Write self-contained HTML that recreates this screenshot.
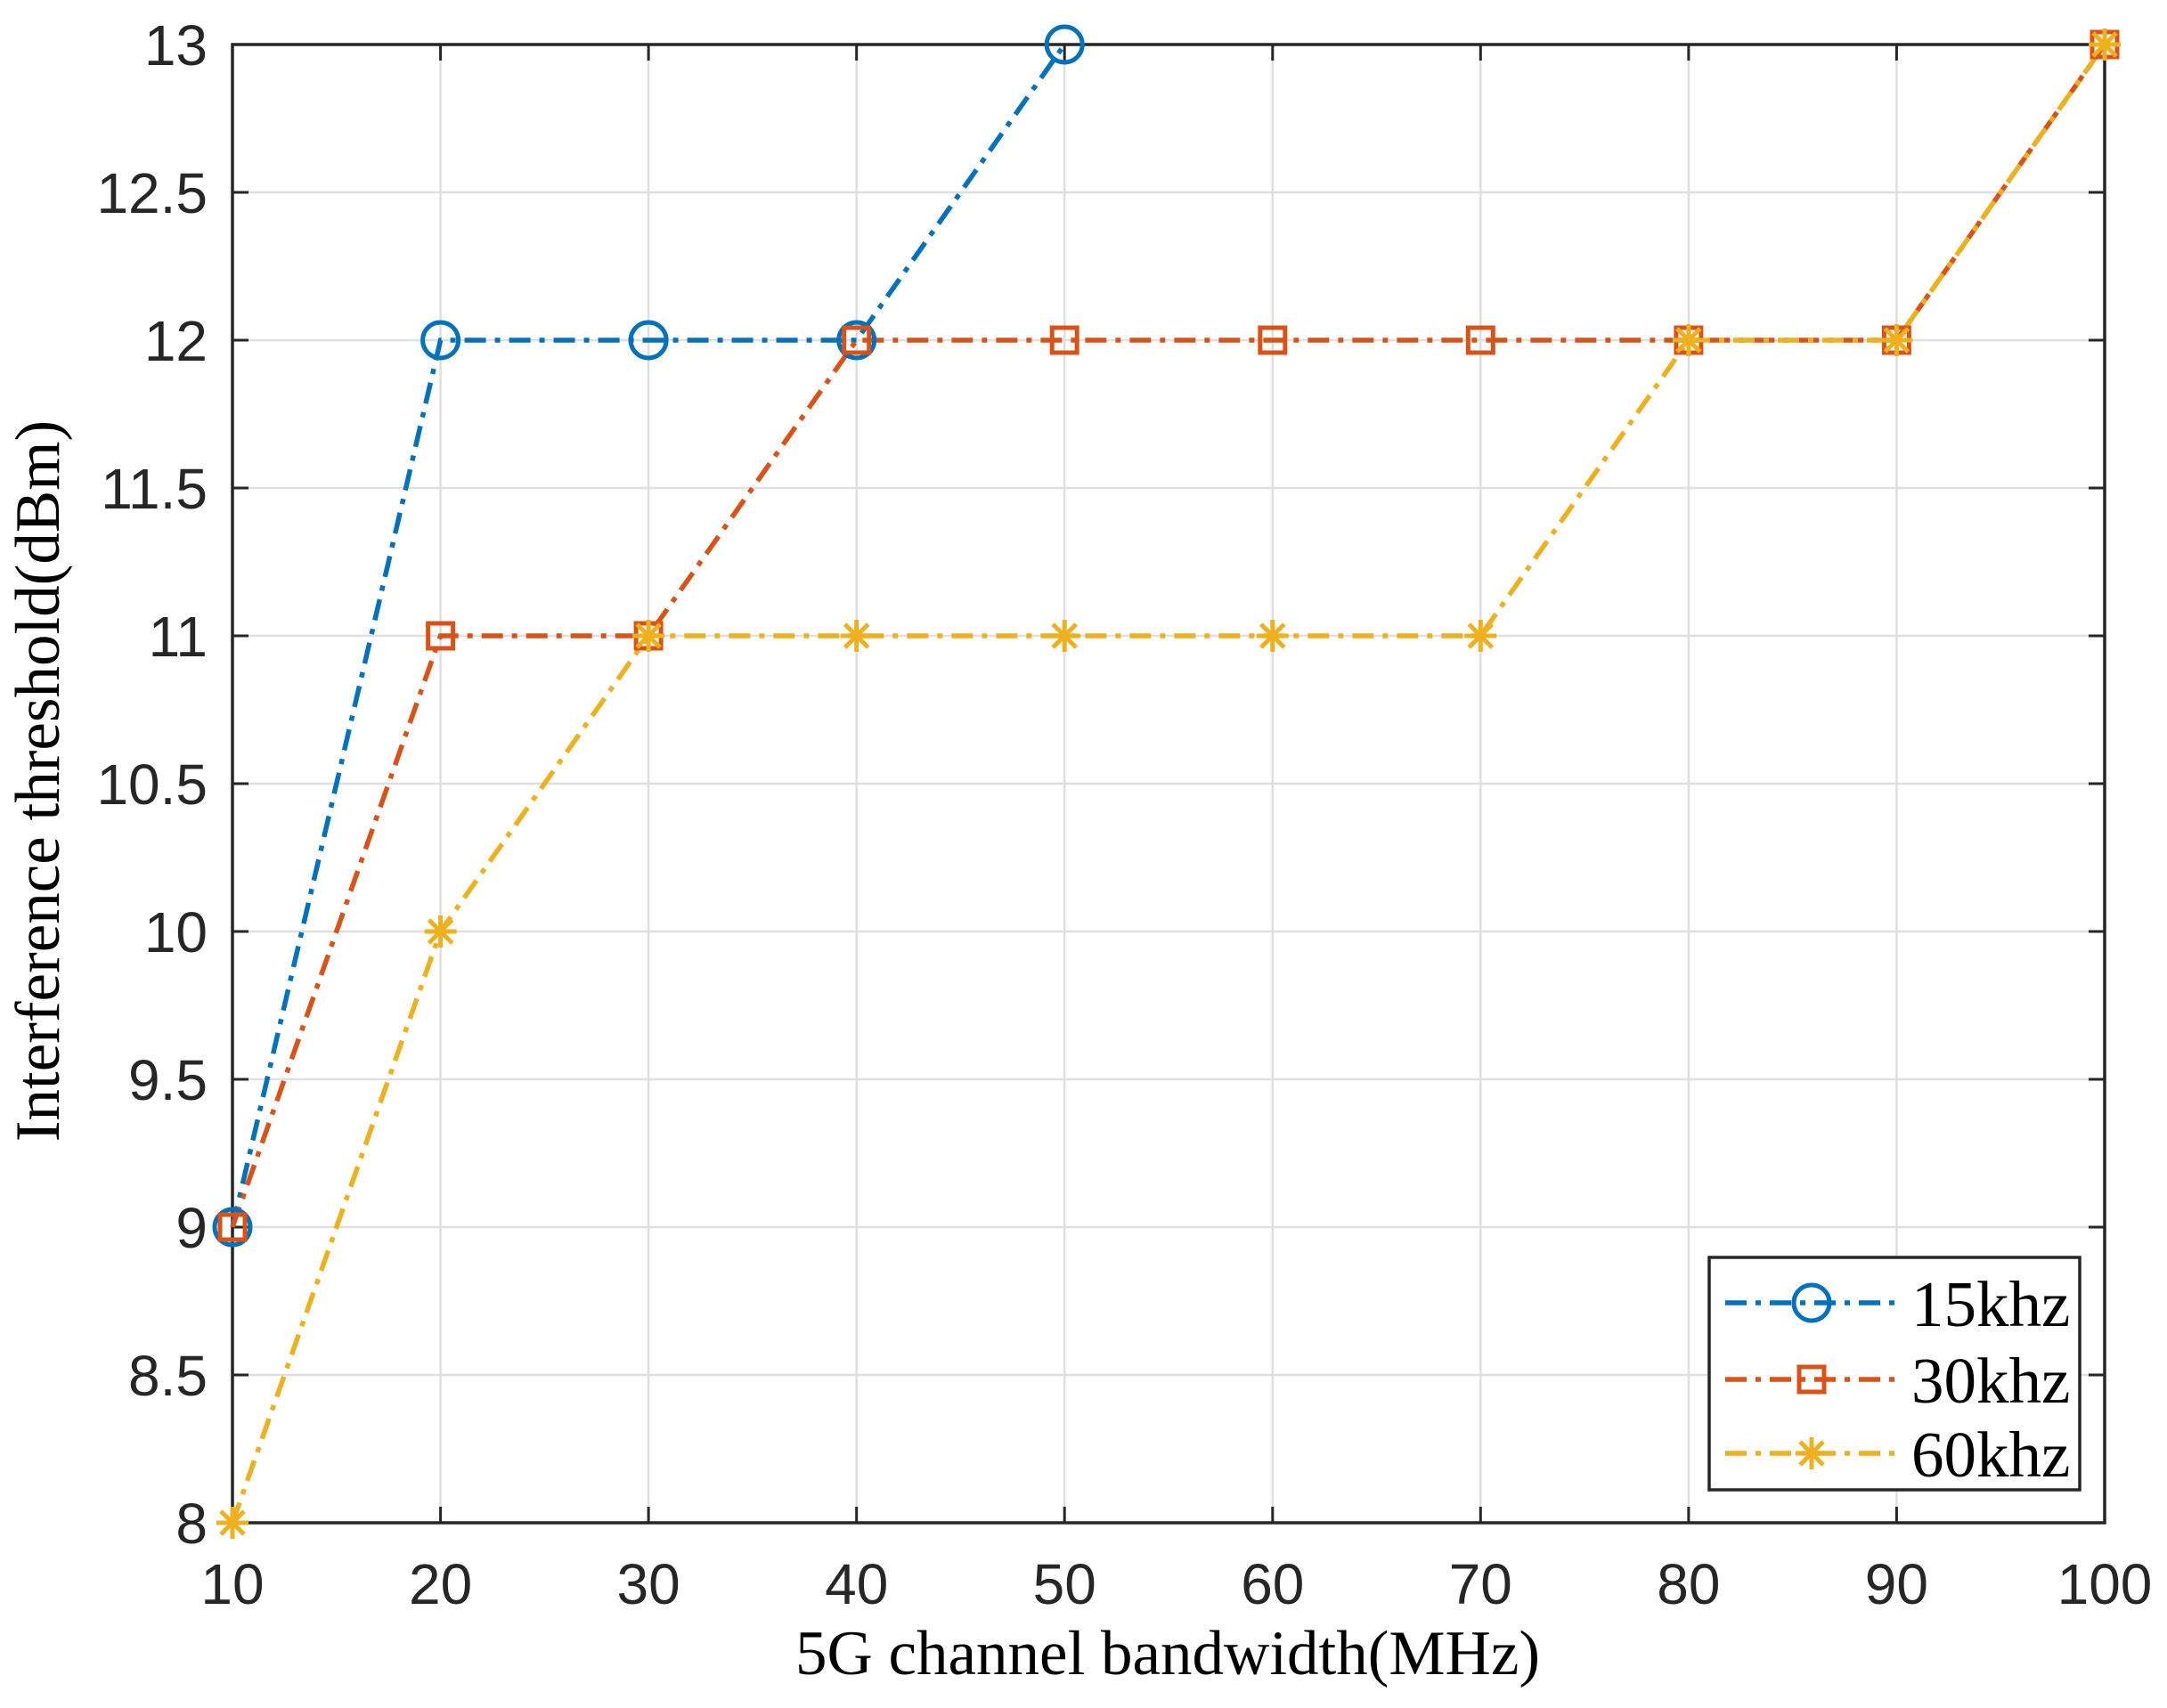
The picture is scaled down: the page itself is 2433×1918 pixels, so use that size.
<!DOCTYPE html>
<html><head><meta charset="utf-8"><style>
html,body{margin:0;padding:0;background:#fff;}
svg{display:block;}
.t{font-family:"Liberation Sans",Arial,sans-serif;font-size:64px;fill:#262626;}
.s{font-family:"Liberation Serif","Times New Roman",serif;fill:#000;}
</style></head><body>
<svg width="2433" height="1918" viewBox="0 0 2433 1918" xmlns="http://www.w3.org/2000/svg">
<rect width="2433" height="1918" fill="#fff"/>
<g stroke="#dfdfdf" stroke-width="2.5">
<line x1="494.6" y1="50" x2="494.6" y2="1710"/><line x1="728.1" y1="50" x2="728.1" y2="1710"/>
<line x1="961.7" y1="50" x2="961.7" y2="1710"/><line x1="1195.2" y1="50" x2="1195.2" y2="1710"/>
<line x1="1428.8" y1="50" x2="1428.8" y2="1710"/><line x1="1662.3" y1="50" x2="1662.3" y2="1710"/>
<line x1="1895.9" y1="50" x2="1895.9" y2="1710"/><line x1="2129.4" y1="50" x2="2129.4" y2="1710"/>
<line x1="261" y1="216" x2="2363" y2="216"/><line x1="261" y1="382" x2="2363" y2="382"/>
<line x1="261" y1="548" x2="2363" y2="548"/><line x1="261" y1="714" x2="2363" y2="714"/>
<line x1="261" y1="880" x2="2363" y2="880"/><line x1="261" y1="1046" x2="2363" y2="1046"/>
<line x1="261" y1="1212" x2="2363" y2="1212"/><line x1="261" y1="1378" x2="2363" y2="1378"/>
<line x1="261" y1="1544" x2="2363" y2="1544"/>
</g>
<g stroke="#262626" stroke-width="3">
<path d="M494.6 1710v-18M728.1 1710v-18M961.7 1710v-18M1195.2 1710v-18M1428.8 1710v-18M1662.3 1710v-18M1895.9 1710v-18M2129.4 1710v-18
M494.6 50v18M728.1 50v18M961.7 50v18M1195.2 50v18M1428.8 50v18M1662.3 50v18M1895.9 50v18M2129.4 50v18
M261 216h18M261 382h18M261 548h18M261 714h18M261 880h18M261 1046h18M261 1212h18M261 1378h18M261 1544h18
M2363 216h-18M2363 382h-18M2363 548h-18M2363 714h-18M2363 880h-18M2363 1046h-18M2363 1212h-18M2363 1378h-18M2363 1544h-18"/>
<rect x="261" y="50" width="2102" height="1660" fill="none" stroke-width="3.5"/>
</g>
<g class="t" text-anchor="end">
<text x="233" y="73">13</text><text x="233" y="239">12.5</text><text x="233" y="405">12</text>
<text x="233" y="571">11.5</text><text x="233" y="737">11</text><text x="233" y="903">10.5</text>
<text x="233" y="1069">10</text><text x="233" y="1235">9.5</text><text x="233" y="1401">9</text>
<text x="233" y="1567">8.5</text><text x="233" y="1733">8</text>
</g>
<g class="t" text-anchor="middle">
<text x="261" y="1801">10</text><text x="494.6" y="1801">20</text><text x="728.1" y="1801">30</text>
<text x="961.7" y="1801">40</text><text x="1195.2" y="1801">50</text><text x="1428.8" y="1801">60</text>
<text x="1662.3" y="1801">70</text><text x="1895.9" y="1801">80</text><text x="2129.4" y="1801">90</text>
<text x="2363" y="1801">100</text>
</g>
<text class="s" x="1311" y="1880" font-size="71" text-anchor="middle">5G channel bandwidth(MHz)</text>
<text class="s" transform="translate(66,877) rotate(-90)" font-size="71" text-anchor="middle">Interference threshold(dBm)</text>
<g fill="none" stroke-width="5.5" stroke-dasharray="24,10,6,10">
<polyline stroke="#0072BD" points="261,1378 494.6,382 728.1,382 961.7,382 1195.2,50"/>
<polyline stroke="#D95319" points="261,1378 494.6,714 728.1,714 961.7,382 1195.2,382 1428.8,382 1662.3,382 1895.9,382 2129.4,382 2363,50"/>
<polyline stroke="#EDB120" points="261,1710 494.6,1046 728.1,714 961.7,714 1195.2,714 1428.8,714 1662.3,714 1895.9,382 2129.4,382 2363,50"/>
</g>
<defs>
<g id="st"><path d="M0 -18V18M-18 0H18M-13 -13L13 13M-13 13L13 -13" stroke="#EDB120" stroke-width="5"/></g>
<rect id="sq" x="-14" y="-14" width="28" height="28" fill="none" stroke="#D95319" stroke-width="5"/>
<circle id="ci" r="20" fill="none" stroke="#0072BD" stroke-width="5"/>
</defs>
<use href="#ci" x="261" y="1378"/><use href="#ci" x="494.6" y="382"/><use href="#ci" x="728.1" y="382"/><use href="#ci" x="961.7" y="382"/><use href="#ci" x="1195.2" y="50"/>
<use href="#sq" x="261" y="1378"/><use href="#sq" x="494.6" y="714"/><use href="#sq" x="728.1" y="714"/><use href="#sq" x="961.7" y="382"/><use href="#sq" x="1195.2" y="382"/><use href="#sq" x="1428.8" y="382"/><use href="#sq" x="1662.3" y="382"/><use href="#sq" x="1895.9" y="382"/><use href="#sq" x="2129.4" y="382"/><use href="#sq" x="2363" y="50"/>
<use href="#st" x="261" y="1710"/><use href="#st" x="494.6" y="1046"/><use href="#st" x="728.1" y="714"/><use href="#st" x="961.7" y="714"/><use href="#st" x="1195.2" y="714"/><use href="#st" x="1428.8" y="714"/><use href="#st" x="1662.3" y="714"/><use href="#st" x="1895.9" y="382"/><use href="#st" x="2129.4" y="382"/><use href="#st" x="2363" y="50"/>
<rect x="1919" y="1412" width="416" height="261" fill="#fff" stroke="#262626" stroke-width="3.5"/>
<g fill="none" stroke-width="5.5" stroke-dasharray="24,10,6,10">
<line x1="1937" y1="1463" x2="2132" y2="1463" stroke="#0072BD"/>
<line x1="1937" y1="1549" x2="2132" y2="1549" stroke="#D95319"/>
<line x1="1937" y1="1632" x2="2132" y2="1632" stroke="#EDB120"/>
</g>
<use href="#ci" x="2034" y="1463"/><use href="#sq" x="2034" y="1549"/><use href="#st" x="2034" y="1632"/>
<g class="s" font-size="73">
<text x="2146" y="1489">15khz</text><text x="2146" y="1575">30khz</text><text x="2146" y="1658">60khz</text>
</g>
</svg>
</body></html>
